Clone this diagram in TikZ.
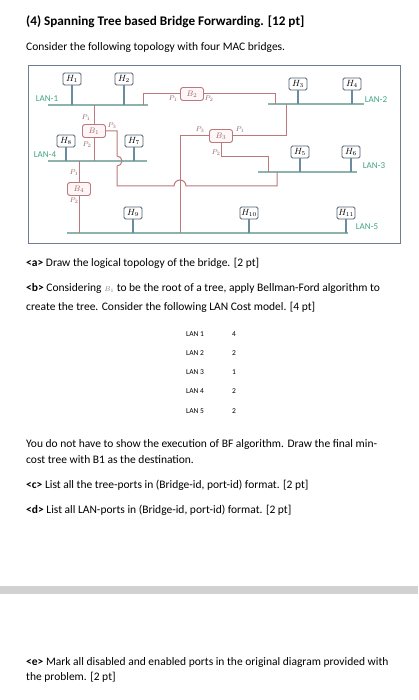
\documentclass[tikz,border=0pt]{standalone}
\usepackage{fontspec}
\setmainfont{Carlito}
\usepackage{tikz}
\usetikzlibrary{positioning}
\usepackage{xcolor}

\definecolor{lanline}{RGB}{140,180,172}
\definecolor{lantext}{RGB}{60,165,125}
\definecolor{hostdraw}{RGB}{80,95,115}
\definecolor{hoststem}{RGB}{105,140,160}
\definecolor{brline}{RGB}{188,120,122}
\definecolor{portcol}{RGB}{150,100,100}
\definecolor{framecol}{RGB}{110,125,145}

\tikzset{
  host/.style={draw=hostdraw, fill=white, rounded corners=1.5pt, line width=0.9pt, minimum width=18pt, minimum height=12pt, inner sep=0pt, font=\small},
  bridge/.style={draw=brline, fill=red!3, rounded corners=2.5pt, line width=0.9pt, minimum width=23pt, minimum height=13pt, inner sep=0pt, text=portcol, font=\footnotesize},
  lan/.style={draw=lanline, line width=1.1pt},
  stem/.style={draw=hoststem, line width=1.1pt},
  wire/.style={draw=brline, line width=1pt},
  port/.style={text=portcol, font=\scriptsize, inner sep=0pt},
  lanlbl/.style={text=lantext, font=\fontsize{9}{10}\selectfont, inner sep=0pt},
  txt/.style={anchor=base west, inner sep=0pt, font=\fontsize{11.5}{13}\selectfont},
  tab/.style={anchor=base west, inner sep=0pt, font=\fontsize{7.5}{9}\selectfont},
}

\begin{document}
\begin{tikzpicture}[x=1pt, y=-1pt]
\useasboundingbox (0,0) rectangle (418,700);
\fill[white] (0,0) rectangle (418,700);

% heading
\node[txt, font=\bfseries\fontsize{13.2}{15}\selectfont] (title) at (26,26) {(4) Spanning Tree based Bridge Forwarding. [12 pt]};
\node[txt] (intro) at (26,51) {Consider the following topology with four MAC bridges.};

% topology box
\draw[framecol, line width=0.8pt] (28,65) rectangle (400,243);

% LAN segments
\coordinate (lan1w) at (48,105);  \coordinate (lan1e) at (148,105);
\coordinate (lan2w) at (268,104); \coordinate (lan2e) at (364,104);
\coordinate (lan3w) at (258,172); \coordinate (lan3e) at (357,172);
\coordinate (lan4w) at (48,161);  \coordinate (lan4e) at (147,161);
\coordinate (lan5w) at (67,233);  \coordinate (lan5e) at (348,233);
\draw[lan] (lan1w) -- (lan1e);
\draw[lan] (lan2w) -- (lan2e);
\draw[lan] (lan3w) -- (lan3e);
\draw[lan] (lan4w) -- (lan4e);
\draw[lan] (lan5w) -- (lan5e);
\node[lanlbl] (l1) at (47,99) {LAN-1};
\node[lanlbl] (l2) at (376,100) {LAN-2};
\node[lanlbl] (l3) at (374,166) {LAN-3};
\node[lanlbl] (l4) at (45,155) {LAN-4};
\node[lanlbl] (l5) at (367,227) {LAN-5};

% hosts
\node[host] (h1) at (72,79) {$H_1$};
\node[host] (h2) at (124,79) {$H_2$};
\node[host] (h3) at (298,84) {$H_3$};
\node[host] (h4) at (352,84) {$H_4$};
\node[host] (h5) at (300,152) {$H_5$};
\node[host] (h6) at (351,152) {$H_6$};
\node[host] (h7) at (134,141) {$H_7$};
\node[host] (h8) at (66,141) {$H_8$};
\node[host] (h9) at (133,213) {$H_9$};
\node[host] (h10) at (249,213) {$H_{10}$};
\node[host] (h11) at (346,213) {$H_{11}$};
\draw[stem] (h1) -- (h1 |- lan1w);
\draw[stem] (h2) -- (h2 |- lan1w);
\draw[stem] (h3) -- (h3 |- lan2w);
\draw[stem] (h4) -- (h4 |- lan2w);
\draw[stem] (h5) -- (h5 |- lan3w);
\draw[stem] (h6) -- (h6 |- lan3w);
\draw[stem] (h7) -- (h7 |- lan4w);
\draw[stem] (h8) -- (h8 |- lan4w);
\draw[stem] (h9) -- (h9 |- lan5w);
\draw[stem] (h10) -- (h10 |- lan5w);
\draw[stem] (h11) -- (h11 |- lan5w);

% bridges
\node[bridge] (b1) at (94,131) {$B_1$};
\node[bridge] (b2) at (192,94) {$B_2$};
\node[bridge] (b3) at (221,136) {$B_3$};
\node[bridge] (b4) at (79,189) {$B_4$};

\coordinate (j1b) at (143,105);
\coordinate (j2a) at (275,104);
\coordinate (j2b) at (286,104);
\coordinate (j3a) at (268,172);
\coordinate (j3b) at (277,172);
\coordinate (b3bend) at (268,157);
\coordinate (hop4) at (117,161);
\coordinate (hop5) at (180,186);

\draw[wire] (b1) -- (b1 |- lan1w);
\draw[wire] (b1) -- (b1 |- lan4w);
\draw[wire] (b1.east) -| ([yshift=5pt]hop4) arc[start angle=90, end angle=-90, radius=5pt]
  -- (hop4 |- hop5) -- ([xshift=-6pt]hop5) arc[start angle=180, end angle=0, radius=6pt] -| (j3b);
\draw[wire] (b2.west) -| (j1b);
\draw[wire] (b2.east) -| (j2a);
\draw[wire] (b3.east) -| (j2b);
\draw[wire] (b3.south) |- (b3bend) -- (j3a);
\draw[wire] (b3.west) -| (hop5 |- lan5w);
\draw[wire] (b4) -- (b4 |- lan4w);
\draw[wire] (b4) -- (b4 |- lan5w);

% port ids
\node[port] (b1p1) at (86,118) {$P_1$};
\node[port] (b1p2) at (87,145) {$P_2$};
\node[port] (b1p3) at (112,126) {$P_3$};
\node[port] (b2p1) at (173,99) {$P_1$};
\node[port] (b2p2) at (209,99) {$P_2$};
\node[port] (b3p3) at (200,130) {$P_3$};
\node[port] (b3p1) at (240,130) {$P_1$};
\node[port] (b3p2) at (216,153) {$P_2$};
\node[port] (b4p1) at (74,173) {$P_1$};
\node[port] (b4p2) at (74,201) {$P_2$};

% questions
\node[txt] (qa) at (26,266) {\textbf{<a>} Draw the logical topology of the bridge. [2 pt]};
\node[txt] (qb) at (26,291) {\textbf{<b>} Considering {\color{gray}\scriptsize$B_1$} to be the root of a tree, apply Bellman-Ford algorithm to};
\node[txt] (qb2) at (26,310) {create the tree. Consider the following LAN Cost model. [4 pt]};

% cost table
\node[tab] (c1) at (186,336) {LAN 1};  \node[tab] (v1) at (232,336) {4};
\node[tab] (c2) at (186,355) {LAN 2};  \node[tab] (v2) at (232,355) {2};
\node[tab] (c3) at (186,374) {LAN 3};  \node[tab] (v3) at (232,374) {1};
\node[tab] (c4) at (186,393) {LAN 4};  \node[tab] (v4) at (232,393) {2};
\node[tab] (c5) at (186,413) {LAN 5};  \node[tab] (v5) at (232,413) {2};

\node[txt] (qn1) at (26,447) {You do not have to show the execution of BF algorithm. Draw the final min-};
\node[txt] (qn2) at (26,463) {cost tree with B1 as the destination.};
\node[txt] (qc) at (26,488) {\textbf{<c>} List all the tree-ports in (Bridge-id, port-id) format. [2 pt]};
\node[txt] (qd) at (26,513) {\textbf{<d>} List all LAN-ports in (Bridge-id, port-id) format. [2 pt]};

% page break bar
\fill[black!18] (0,586) rectangle (418,594);

\node[txt] (qe) at (26,665) {\textbf{<e>} Mark all disabled and enabled ports in the original diagram provided with};
\node[txt] (qe2) at (26,680) {the problem. [2 pt]};
\end{tikzpicture}
\end{document}
